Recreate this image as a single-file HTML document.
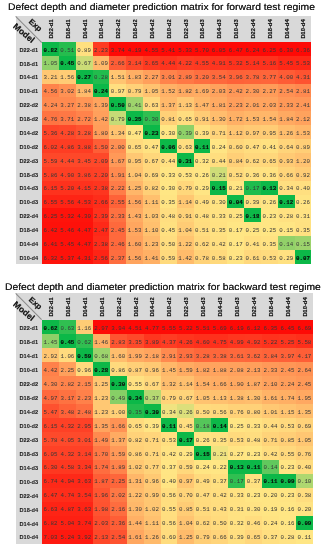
<!DOCTYPE html>
<html><head><meta charset="utf-8"><style>
*{margin:0;padding:0;box-sizing:border-box}
html,body{width:324px;height:550px;background:#fff;overflow:hidden;position:relative}
body>div{position:absolute}
.ttl{font-family:"Liberation Sans",sans-serif;font-size:10.0px;text-rendering:geometricPrecision;color:#222;text-shadow:0 0 0.3px #222;white-space:nowrap;transform-origin:0 0;line-height:1}
.grey{background:#d9d9d9}
.diag{height:0;border-top:0.6px solid #8a8a8a;transform-origin:0 0}
.exp,.model{font-family:"Liberation Sans",sans-serif;font-weight:bold;font-size:8.6px;color:#111;-webkit-text-stroke:0.2px #111;transform:rotate(40deg);transform-origin:0 0;line-height:1;white-space:nowrap}
.ch{display:flex;align-items:center;justify-content:center}
.ch span{display:block;transform:rotate(-90deg);font-family:"Liberation Sans",sans-serif;font-weight:bold;font-size:5.75px;color:#0e0e0e;-webkit-text-stroke:0.15px #0e0e0e;white-space:nowrap}
.rl{font-family:"Liberation Sans",sans-serif;font-weight:bold;font-size:5.6px;color:#181818;-webkit-text-stroke:0.05px #181818;text-align:center;white-space:nowrap;padding-top:1.8px}
.c{font-family:"Liberation Mono",monospace;font-size:5.8px;color:#383838;text-align:center;white-space:nowrap;padding-top:1.7px}
.c.b{font-weight:bold;color:#0a0a0a;-webkit-text-stroke:0.1px #0a0a0a}
</style></head>
<body>
<div class="ttl" style="left:8.4px;top:3.2px;transform:scale(1.034,0.96)">Defect depth and diameter prediction matrix for forward test regime</div>
<div class="grey" style="left:15.7px;top:15.5px;width:295.74px;height:26.40px"></div>
<div class="grey" style="left:15.7px;top:41.9px;width:26.30px;height:222.08px"></div>
<div class="diag" style="left:15.7px;top:15.5px;width:37.26px;transform:rotate(45.11deg)"></div>
<div class="exp" style="left:32.2px;top:18.1px;font-size:7.9px">Exp</div>
<div class="model" style="left:16.9px;top:22.3px">Model</div>
<div class="ch" style="left:42.00px;top:15.50px;width:16.84px;height:26.40px"><span>D22-d1</span></div>
<div class="ch" style="left:58.84px;top:15.50px;width:16.84px;height:26.40px"><span>D18-d1</span></div>
<div class="ch" style="left:75.68px;top:15.50px;width:16.84px;height:26.40px"><span>D14-d1</span></div>
<div class="ch" style="left:92.52px;top:15.50px;width:16.84px;height:26.40px"><span>D10-d1</span></div>
<div class="ch" style="left:109.36px;top:15.50px;width:16.84px;height:26.40px"><span>D22-d2</span></div>
<div class="ch" style="left:126.20px;top:15.50px;width:16.84px;height:26.40px"><span>D18-d2</span></div>
<div class="ch" style="left:143.04px;top:15.50px;width:16.84px;height:26.40px"><span>D14-d2</span></div>
<div class="ch" style="left:159.88px;top:15.50px;width:16.84px;height:26.40px"><span>D10-d2</span></div>
<div class="ch" style="left:176.72px;top:15.50px;width:16.84px;height:26.40px"><span>D22-d3</span></div>
<div class="ch" style="left:193.56px;top:15.50px;width:16.84px;height:26.40px"><span>D18-d3</span></div>
<div class="ch" style="left:210.40px;top:15.50px;width:16.84px;height:26.40px"><span>D14-d3</span></div>
<div class="ch" style="left:227.24px;top:15.50px;width:16.84px;height:26.40px"><span>D10-d3</span></div>
<div class="ch" style="left:244.08px;top:15.50px;width:16.84px;height:26.40px"><span>D22-d4</span></div>
<div class="ch" style="left:260.92px;top:15.50px;width:16.84px;height:26.40px"><span>D18-d4</span></div>
<div class="ch" style="left:277.76px;top:15.50px;width:16.84px;height:26.40px"><span>D14-d4</span></div>
<div class="ch" style="left:294.60px;top:15.50px;width:16.84px;height:26.40px"><span>D10-d4</span></div>
<div class="rl" style="left:15.7px;top:41.90px;width:26.30px;height:13.88px;line-height:13.88px">D22-d1</div>
<div class="c b" style="left:42.00px;top:41.90px;width:16.86px;height:13.90px;line-height:13.88px;background:#0cb848">0.82</div>
<div class="c" style="left:58.84px;top:41.90px;width:16.86px;height:13.90px;line-height:13.88px;background:#25bd4e">0.51</div>
<div class="c" style="left:75.68px;top:41.90px;width:16.86px;height:13.90px;line-height:13.88px;background:#ffe080">0.89</div>
<div class="c" style="left:92.52px;top:41.90px;width:16.86px;height:13.90px;line-height:13.88px;background:#fe3a21">2.23</div>
<div class="c" style="left:109.36px;top:41.90px;width:16.86px;height:13.90px;line-height:13.88px;background:#fe0a06">3.74</div>
<div class="c" style="left:126.20px;top:41.90px;width:16.86px;height:13.90px;line-height:13.88px;background:#fe0a06">4.19</div>
<div class="c" style="left:143.04px;top:41.90px;width:16.86px;height:13.90px;line-height:13.88px;background:#fe0a06">4.55</div>
<div class="c" style="left:159.88px;top:41.90px;width:16.86px;height:13.90px;line-height:13.88px;background:#fe0a06">5.41</div>
<div class="c" style="left:176.72px;top:41.90px;width:16.86px;height:13.90px;line-height:13.88px;background:#fe0a06">5.33</div>
<div class="c" style="left:193.56px;top:41.90px;width:16.86px;height:13.90px;line-height:13.88px;background:#fe0a06">5.70</div>
<div class="c" style="left:210.40px;top:41.90px;width:16.86px;height:13.90px;line-height:13.88px;background:#fe0a06">6.05</div>
<div class="c" style="left:227.24px;top:41.90px;width:16.86px;height:13.90px;line-height:13.88px;background:#fe0a06">6.47</div>
<div class="c" style="left:244.08px;top:41.90px;width:16.86px;height:13.90px;line-height:13.88px;background:#fe0a06">6.24</div>
<div class="c" style="left:260.92px;top:41.90px;width:16.86px;height:13.90px;line-height:13.88px;background:#fe0a06">6.25</div>
<div class="c" style="left:277.76px;top:41.90px;width:16.86px;height:13.90px;line-height:13.88px;background:#fe0a06">6.30</div>
<div class="c" style="left:294.60px;top:41.90px;width:16.86px;height:13.90px;line-height:13.88px;background:#fe0a06">6.36</div>
<div class="rl" style="left:15.7px;top:55.78px;width:26.30px;height:13.88px;line-height:13.88px">D18-d1</div>
<div class="c" style="left:42.00px;top:55.78px;width:16.86px;height:13.90px;line-height:13.88px;background:#92d169">1.05</div>
<div class="c b" style="left:58.84px;top:55.78px;width:16.86px;height:13.90px;line-height:13.88px;background:#0cb848">0.45</div>
<div class="c" style="left:75.68px;top:55.78px;width:16.86px;height:13.90px;line-height:13.88px;background:#cbdc77">0.67</div>
<div class="c" style="left:92.52px;top:55.78px;width:16.86px;height:13.90px;line-height:13.88px;background:#ffb96a">1.09</div>
<div class="c" style="left:109.36px;top:55.78px;width:16.86px;height:13.90px;line-height:13.88px;background:#fe5d36">2.66</div>
<div class="c" style="left:126.20px;top:55.78px;width:16.86px;height:13.90px;line-height:13.88px;background:#fe4829">3.14</div>
<div class="c" style="left:143.04px;top:55.78px;width:16.86px;height:13.90px;line-height:13.88px;background:#fe3a21">3.65</div>
<div class="c" style="left:159.88px;top:55.78px;width:16.86px;height:13.90px;line-height:13.88px;background:#fe341e">4.44</div>
<div class="c" style="left:176.72px;top:55.78px;width:16.86px;height:13.90px;line-height:13.88px;background:#fe3c23">4.22</div>
<div class="c" style="left:193.56px;top:55.78px;width:16.86px;height:13.90px;line-height:13.88px;background:#fe3921">4.55</div>
<div class="c" style="left:210.40px;top:55.78px;width:16.86px;height:13.90px;line-height:13.88px;background:#fe351f">4.91</div>
<div class="c" style="left:227.24px;top:55.78px;width:16.86px;height:13.90px;line-height:13.88px;background:#fe321d">5.32</div>
<div class="c" style="left:244.08px;top:55.78px;width:16.86px;height:13.90px;line-height:13.88px;background:#fe321d">5.14</div>
<div class="c" style="left:260.92px;top:55.78px;width:16.86px;height:13.90px;line-height:13.88px;background:#fe321d">5.16</div>
<div class="c" style="left:277.76px;top:55.78px;width:16.86px;height:13.90px;line-height:13.88px;background:#fe2817">5.45</div>
<div class="c" style="left:294.60px;top:55.78px;width:16.86px;height:13.90px;line-height:13.88px;background:#fe2817">5.53</div>
<div class="rl" style="left:15.7px;top:69.66px;width:26.30px;height:13.88px;line-height:13.88px">D14-d1</div>
<div class="c" style="left:42.00px;top:69.66px;width:16.86px;height:13.90px;line-height:13.88px;background:#ffc772">3.21</div>
<div class="c" style="left:58.84px;top:69.66px;width:16.86px;height:13.90px;line-height:13.88px;background:#ffcc75">1.56</div>
<div class="c b" style="left:75.68px;top:69.66px;width:16.86px;height:13.90px;line-height:13.88px;background:#0cb848">0.27</div>
<div class="c" style="left:92.52px;top:69.66px;width:16.86px;height:13.90px;line-height:13.88px;background:#22bc4d">0.28</div>
<div class="c" style="left:109.36px;top:69.66px;width:16.86px;height:13.90px;line-height:13.88px;background:#ffc571">1.51</div>
<div class="c" style="left:126.20px;top:69.66px;width:16.86px;height:13.90px;line-height:13.88px;background:#ffaf64">1.83</div>
<div class="c" style="left:143.04px;top:69.66px;width:16.86px;height:13.90px;line-height:13.88px;background:#ffa05c">2.27</div>
<div class="c" style="left:159.88px;top:69.66px;width:16.86px;height:13.90px;line-height:13.88px;background:#ff834b">3.01</div>
<div class="c" style="left:176.72px;top:69.66px;width:16.86px;height:13.90px;line-height:13.88px;background:#ff7845">2.89</div>
<div class="c" style="left:193.56px;top:69.66px;width:16.86px;height:13.90px;line-height:13.88px;background:#fe6f40">3.20</div>
<div class="c" style="left:210.40px;top:69.66px;width:16.86px;height:13.90px;line-height:13.88px;background:#fe693c">3.54</div>
<div class="c" style="left:227.24px;top:69.66px;width:16.86px;height:13.90px;line-height:13.88px;background:#fe6238">3.96</div>
<div class="c" style="left:244.08px;top:69.66px;width:16.86px;height:13.90px;line-height:13.88px;background:#fe6439">3.78</div>
<div class="c" style="left:260.92px;top:69.66px;width:16.86px;height:13.90px;line-height:13.88px;background:#fe653a">3.77</div>
<div class="c" style="left:277.76px;top:69.66px;width:16.86px;height:13.90px;line-height:13.88px;background:#fe5c35">4.00</div>
<div class="c" style="left:294.60px;top:69.66px;width:16.86px;height:13.90px;line-height:13.88px;background:#fe5330">4.31</div>
<div class="rl" style="left:15.7px;top:83.54px;width:26.30px;height:13.88px;line-height:13.88px">D10-d1</div>
<div class="c" style="left:42.00px;top:83.54px;width:16.86px;height:13.90px;line-height:13.88px;background:#ff834b">4.56</div>
<div class="c" style="left:58.84px;top:83.54px;width:16.86px;height:13.90px;line-height:13.88px;background:#ff9254">3.02</div>
<div class="c" style="left:75.68px;top:83.54px;width:16.86px;height:13.90px;line-height:13.88px;background:#ffba6b">1.84</div>
<div class="c b" style="left:92.52px;top:83.54px;width:16.86px;height:13.90px;line-height:13.88px;background:#0cb848">0.24</div>
<div class="c" style="left:109.36px;top:83.54px;width:16.86px;height:13.90px;line-height:13.88px;background:#ffdf80">0.97</div>
<div class="c" style="left:126.20px;top:83.54px;width:16.86px;height:13.90px;line-height:13.88px;background:#ffd178">0.79</div>
<div class="c" style="left:143.04px;top:83.54px;width:16.86px;height:13.90px;line-height:13.88px;background:#ffc370">1.05</div>
<div class="c" style="left:159.88px;top:83.54px;width:16.86px;height:13.90px;line-height:13.88px;background:#ffb166">1.52</div>
<div class="c" style="left:176.72px;top:83.54px;width:16.86px;height:13.90px;line-height:13.88px;background:#ffa961">1.82</div>
<div class="c" style="left:193.56px;top:83.54px;width:16.86px;height:13.90px;line-height:13.88px;background:#ffad63">1.69</div>
<div class="c" style="left:210.40px;top:83.54px;width:16.86px;height:13.90px;line-height:13.88px;background:#ffa25d">2.03</div>
<div class="c" style="left:227.24px;top:83.54px;width:16.86px;height:13.90px;line-height:13.88px;background:#ff9757">2.42</div>
<div class="c" style="left:244.08px;top:83.54px;width:16.86px;height:13.90px;line-height:13.88px;background:#ff9a58">2.30</div>
<div class="c" style="left:260.92px;top:83.54px;width:16.86px;height:13.90px;line-height:13.88px;background:#ff9c59">2.27</div>
<div class="c" style="left:277.76px;top:83.54px;width:16.86px;height:13.90px;line-height:13.88px;background:#ff9053">2.54</div>
<div class="c" style="left:294.60px;top:83.54px;width:16.86px;height:13.90px;line-height:13.88px;background:#ff894f">2.81</div>
<div class="rl" style="left:15.7px;top:97.42px;width:26.30px;height:13.88px;line-height:13.88px">D22-d2</div>
<div class="c" style="left:42.00px;top:97.42px;width:16.86px;height:13.90px;line-height:13.88px;background:#ff8a4f">4.24</div>
<div class="c" style="left:58.84px;top:97.42px;width:16.86px;height:13.90px;line-height:13.88px;background:#ff8a4f">3.27</div>
<div class="c" style="left:75.68px;top:97.42px;width:16.86px;height:13.90px;line-height:13.88px;background:#ff9555">2.38</div>
<div class="c" style="left:92.52px;top:97.42px;width:16.86px;height:13.90px;line-height:13.88px;background:#ffa45e">1.39</div>
<div class="c b" style="left:109.36px;top:97.42px;width:16.86px;height:13.90px;line-height:13.88px;background:#0cb848">0.50</div>
<div class="c" style="left:126.20px;top:97.42px;width:16.86px;height:13.90px;line-height:13.88px;background:#9ed46c">0.41</div>
<div class="c" style="left:143.04px;top:97.42px;width:16.86px;height:13.90px;line-height:13.88px;background:#ffd97d">0.63</div>
<div class="c" style="left:159.88px;top:97.42px;width:16.86px;height:13.90px;line-height:13.88px;background:#ffb86a">1.37</div>
<div class="c" style="left:176.72px;top:97.42px;width:16.86px;height:13.90px;line-height:13.88px;background:#ffc873">1.13</div>
<div class="c" style="left:193.56px;top:97.42px;width:16.86px;height:13.90px;line-height:13.88px;background:#ffb668">1.47</div>
<div class="c" style="left:210.40px;top:97.42px;width:16.86px;height:13.90px;line-height:13.88px;background:#ffaa62">1.81</div>
<div class="c" style="left:227.24px;top:97.42px;width:16.86px;height:13.90px;line-height:13.88px;background:#ff9e5b">2.23</div>
<div class="c" style="left:244.08px;top:97.42px;width:16.86px;height:13.90px;line-height:13.88px;background:#ffa45e">2.01</div>
<div class="c" style="left:260.92px;top:97.42px;width:16.86px;height:13.90px;line-height:13.88px;background:#ffa45e">2.03</div>
<div class="c" style="left:277.76px;top:97.42px;width:16.86px;height:13.90px;line-height:13.88px;background:#ff9857">2.33</div>
<div class="c" style="left:294.60px;top:97.42px;width:16.86px;height:13.90px;line-height:13.88px;background:#ff9757">2.41</div>
<div class="rl" style="left:15.7px;top:111.30px;width:26.30px;height:13.88px;line-height:13.88px">D18-d2</div>
<div class="c" style="left:42.00px;top:111.30px;width:16.86px;height:13.90px;line-height:13.88px;background:#fe7442">4.76</div>
<div class="c" style="left:58.84px;top:111.30px;width:16.86px;height:13.90px;line-height:13.88px;background:#fe7845">3.71</div>
<div class="c" style="left:75.68px;top:111.30px;width:16.86px;height:13.90px;line-height:13.88px;background:#ff834b">2.72</div>
<div class="c" style="left:92.52px;top:111.30px;width:16.86px;height:13.90px;line-height:13.88px;background:#ffa05c">1.42</div>
<div class="c" style="left:109.36px;top:111.30px;width:16.86px;height:13.90px;line-height:13.88px;background:#c5db76">0.79</div>
<div class="c b" style="left:126.20px;top:111.30px;width:16.86px;height:13.90px;line-height:13.88px;background:#0cb848">0.35</div>
<div class="c" style="left:143.04px;top:111.30px;width:16.86px;height:13.90px;line-height:13.88px;background:#30bf51">0.30</div>
<div class="c" style="left:159.88px;top:111.30px;width:16.86px;height:13.90px;line-height:13.88px;background:#ffd077">0.81</div>
<div class="c" style="left:176.72px;top:111.30px;width:16.86px;height:13.90px;line-height:13.88px;background:#ffdd7f">0.65</div>
<div class="c" style="left:193.56px;top:111.30px;width:16.86px;height:13.90px;line-height:13.88px;background:#ffcc75">0.91</div>
<div class="c" style="left:210.40px;top:111.30px;width:16.86px;height:13.90px;line-height:13.88px;background:#ffbd6d">1.30</div>
<div class="c" style="left:227.24px;top:111.30px;width:16.86px;height:13.90px;line-height:13.88px;background:#ffb065">1.72</div>
<div class="c" style="left:244.08px;top:111.30px;width:16.86px;height:13.90px;line-height:13.88px;background:#ffb668">1.53</div>
<div class="c" style="left:260.92px;top:111.30px;width:16.86px;height:13.90px;line-height:13.88px;background:#ffb669">1.54</div>
<div class="c" style="left:277.76px;top:111.30px;width:16.86px;height:13.90px;line-height:13.88px;background:#ffa961">1.84</div>
<div class="c" style="left:294.60px;top:111.30px;width:16.86px;height:13.90px;line-height:13.88px;background:#ffa25d">2.12</div>
<div class="rl" style="left:15.7px;top:125.18px;width:26.30px;height:13.88px;line-height:13.88px">D14-d2</div>
<div class="c" style="left:42.00px;top:125.18px;width:16.86px;height:13.90px;line-height:13.88px;background:#fe4528">5.36</div>
<div class="c" style="left:58.84px;top:125.18px;width:16.86px;height:13.90px;line-height:13.88px;background:#fe482a">4.28</div>
<div class="c" style="left:75.68px;top:125.18px;width:16.86px;height:13.90px;line-height:13.88px;background:#fe5330">3.28</div>
<div class="c" style="left:92.52px;top:125.18px;width:16.86px;height:13.90px;line-height:13.88px;background:#ff9d5a">1.80</div>
<div class="c" style="left:109.36px;top:125.18px;width:16.86px;height:13.90px;line-height:13.88px;background:#ffc370">1.34</div>
<div class="c" style="left:126.20px;top:125.18px;width:16.86px;height:13.90px;line-height:13.88px;background:#ffe483">0.47</div>
<div class="c b" style="left:143.04px;top:125.18px;width:16.86px;height:13.90px;line-height:13.88px;background:#0cb848">0.23</div>
<div class="c" style="left:159.88px;top:125.18px;width:16.86px;height:13.90px;line-height:13.88px;background:#ffe684">0.30</div>
<div class="c" style="left:176.72px;top:125.18px;width:16.86px;height:13.90px;line-height:13.88px;background:#8ed168">0.39</div>
<div class="c" style="left:193.56px;top:125.18px;width:16.86px;height:13.90px;line-height:13.88px;background:#ffe181">0.39</div>
<div class="c" style="left:210.40px;top:125.18px;width:16.86px;height:13.90px;line-height:13.88px;background:#ffd47a">0.71</div>
<div class="c" style="left:227.24px;top:125.18px;width:16.86px;height:13.90px;line-height:13.88px;background:#ffc571">1.12</div>
<div class="c" style="left:244.08px;top:125.18px;width:16.86px;height:13.90px;line-height:13.88px;background:#ffca74">0.97</div>
<div class="c" style="left:260.92px;top:125.18px;width:16.86px;height:13.90px;line-height:13.88px;background:#ffcc75">0.95</div>
<div class="c" style="left:277.76px;top:125.18px;width:16.86px;height:13.90px;line-height:13.88px;background:#ffbe6d">1.26</div>
<div class="c" style="left:294.60px;top:125.18px;width:16.86px;height:13.90px;line-height:13.88px;background:#ffb769">1.53</div>
<div class="rl" style="left:15.7px;top:139.06px;width:26.30px;height:13.88px;line-height:13.88px">D10-d2</div>
<div class="c" style="left:42.00px;top:139.06px;width:16.86px;height:13.90px;line-height:13.88px;background:#fe3d23">6.02</div>
<div class="c" style="left:58.84px;top:139.06px;width:16.86px;height:13.90px;line-height:13.88px;background:#fe3d23">4.86</div>
<div class="c" style="left:75.68px;top:139.06px;width:16.86px;height:13.90px;line-height:13.88px;background:#fe3d23">3.88</div>
<div class="c" style="left:92.52px;top:139.06px;width:16.86px;height:13.90px;line-height:13.88px;background:#fe5e36">1.50</div>
<div class="c" style="left:109.36px;top:139.06px;width:16.86px;height:13.90px;line-height:13.88px;background:#ff9053">2.00</div>
<div class="c" style="left:126.20px;top:139.06px;width:16.86px;height:13.90px;line-height:13.88px;background:#ffda7d">0.65</div>
<div class="c" style="left:143.04px;top:139.06px;width:16.86px;height:13.90px;line-height:13.88px;background:#ffe281">0.47</div>
<div class="c b" style="left:159.88px;top:139.06px;width:16.86px;height:13.90px;line-height:13.88px;background:#0cb848">0.06</div>
<div class="c" style="left:176.72px;top:139.06px;width:16.86px;height:13.90px;line-height:13.88px;background:#ffde80">0.63</div>
<div class="c b" style="left:193.56px;top:139.06px;width:16.86px;height:13.90px;line-height:13.88px;background:#0cb848">0.11</div>
<div class="c" style="left:210.40px;top:139.06px;width:16.86px;height:13.90px;line-height:13.88px;background:#ffe584">0.24</div>
<div class="c" style="left:227.24px;top:139.06px;width:16.86px;height:13.90px;line-height:13.88px;background:#ffd77b">0.60</div>
<div class="c" style="left:244.08px;top:139.06px;width:16.86px;height:13.90px;line-height:13.88px;background:#ffdd7f">0.47</div>
<div class="c" style="left:260.92px;top:139.06px;width:16.86px;height:13.90px;line-height:13.88px;background:#ffe080">0.41</div>
<div class="c" style="left:277.76px;top:139.06px;width:16.86px;height:13.90px;line-height:13.88px;background:#ffd47a">0.64</div>
<div class="c" style="left:294.60px;top:139.06px;width:16.86px;height:13.90px;line-height:13.88px;background:#ffce76">0.89</div>
<div class="rl" style="left:15.7px;top:152.94px;width:26.30px;height:13.88px;line-height:13.88px">D22-d3</div>
<div class="c" style="left:42.00px;top:152.94px;width:16.86px;height:13.90px;line-height:13.88px;background:#fe4829">5.59</div>
<div class="c" style="left:58.84px;top:152.94px;width:16.86px;height:13.90px;line-height:13.88px;background:#fe4829">4.44</div>
<div class="c" style="left:75.68px;top:152.94px;width:16.86px;height:13.90px;line-height:13.88px;background:#fe4829">3.45</div>
<div class="c" style="left:92.52px;top:152.94px;width:16.86px;height:13.90px;line-height:13.88px;background:#fe4829">2.09</div>
<div class="c" style="left:109.36px;top:152.94px;width:16.86px;height:13.90px;line-height:13.88px;background:#ff9958">1.67</div>
<div class="c" style="left:126.20px;top:152.94px;width:16.86px;height:13.90px;line-height:13.88px;background:#ffc873">0.95</div>
<div class="c" style="left:143.04px;top:152.94px;width:16.86px;height:13.90px;line-height:13.88px;background:#ffd77b">0.67</div>
<div class="c" style="left:159.88px;top:152.94px;width:16.86px;height:13.90px;line-height:13.88px;background:#ffe081">0.44</div>
<div class="c b" style="left:176.72px;top:152.94px;width:16.86px;height:13.90px;line-height:13.88px;background:#0cb848">0.31</div>
<div class="c" style="left:193.56px;top:152.94px;width:16.86px;height:13.90px;line-height:13.88px;background:#ffe483">0.32</div>
<div class="c" style="left:210.40px;top:152.94px;width:16.86px;height:13.90px;line-height:13.88px;background:#ffde7f">0.44</div>
<div class="c" style="left:227.24px;top:152.94px;width:16.86px;height:13.90px;line-height:13.88px;background:#ffcf77">0.84</div>
<div class="c" style="left:244.08px;top:152.94px;width:16.86px;height:13.90px;line-height:13.88px;background:#ffd77c">0.62</div>
<div class="c" style="left:260.92px;top:152.94px;width:16.86px;height:13.90px;line-height:13.88px;background:#ffd77b">0.65</div>
<div class="c" style="left:277.76px;top:152.94px;width:16.86px;height:13.90px;line-height:13.88px;background:#ffca74">0.93</div>
<div class="c" style="left:294.60px;top:152.94px;width:16.86px;height:13.90px;line-height:13.88px;background:#ffc270">1.20</div>
<div class="rl" style="left:15.7px;top:166.82px;width:26.30px;height:13.88px;line-height:13.88px">D18-d3</div>
<div class="c" style="left:42.00px;top:166.82px;width:16.86px;height:13.90px;line-height:13.88px;background:#fe3f24">5.86</div>
<div class="c" style="left:58.84px;top:166.82px;width:16.86px;height:13.90px;line-height:13.88px;background:#fe3f24">4.90</div>
<div class="c" style="left:75.68px;top:166.82px;width:16.86px;height:13.90px;line-height:13.88px;background:#fe3f24">3.86</div>
<div class="c" style="left:92.52px;top:166.82px;width:16.86px;height:13.90px;line-height:13.88px;background:#fe4126">2.20</div>
<div class="c" style="left:109.36px;top:166.82px;width:16.86px;height:13.90px;line-height:13.88px;background:#ff8a4f">1.91</div>
<div class="c" style="left:126.20px;top:166.82px;width:16.86px;height:13.90px;line-height:13.88px;background:#ffc370">1.04</div>
<div class="c" style="left:143.04px;top:166.82px;width:16.86px;height:13.90px;line-height:13.88px;background:#ffd67b">0.69</div>
<div class="c" style="left:159.88px;top:166.82px;width:16.86px;height:13.90px;line-height:13.88px;background:#ffe583">0.33</div>
<div class="c" style="left:176.72px;top:166.82px;width:16.86px;height:13.90px;line-height:13.88px;background:#ffe382">0.53</div>
<div class="c" style="left:193.56px;top:166.82px;width:16.86px;height:13.90px;line-height:13.88px;background:#ffe684">0.26</div>
<div class="c" style="left:210.40px;top:166.82px;width:16.86px;height:13.90px;line-height:13.88px;background:#cedd78">0.21</div>
<div class="c" style="left:227.24px;top:166.82px;width:16.86px;height:13.90px;line-height:13.88px;background:#ffda7d">0.52</div>
<div class="c" style="left:244.08px;top:166.82px;width:16.86px;height:13.90px;line-height:13.88px;background:#ffe181">0.36</div>
<div class="c" style="left:260.92px;top:166.82px;width:16.86px;height:13.90px;line-height:13.88px;background:#ffe281">0.36</div>
<div class="c" style="left:277.76px;top:166.82px;width:16.86px;height:13.90px;line-height:13.88px;background:#ffd479">0.66</div>
<div class="c" style="left:294.60px;top:166.82px;width:16.86px;height:13.90px;line-height:13.88px;background:#ffcc75">0.92</div>
<div class="rl" style="left:15.7px;top:180.70px;width:26.30px;height:13.88px;line-height:13.88px">D14-d3</div>
<div class="c" style="left:42.00px;top:180.70px;width:16.86px;height:13.90px;line-height:13.88px;background:#fe321d">6.15</div>
<div class="c" style="left:58.84px;top:180.70px;width:16.86px;height:13.90px;line-height:13.88px;background:#fe321d">5.20</div>
<div class="c" style="left:75.68px;top:180.70px;width:16.86px;height:13.90px;line-height:13.88px;background:#fe321d">4.15</div>
<div class="c" style="left:92.52px;top:180.70px;width:16.86px;height:13.90px;line-height:13.88px;background:#fe361f">2.38</div>
<div class="c" style="left:109.36px;top:180.70px;width:16.86px;height:13.90px;line-height:13.88px;background:#ff7c48">2.22</div>
<div class="c" style="left:126.20px;top:180.70px;width:16.86px;height:13.90px;line-height:13.88px;background:#ffb669">1.25</div>
<div class="c" style="left:143.04px;top:180.70px;width:16.86px;height:13.90px;line-height:13.88px;background:#ffcf77">0.82</div>
<div class="c" style="left:159.88px;top:180.70px;width:16.86px;height:13.90px;line-height:13.88px;background:#ffe684">0.30</div>
<div class="c" style="left:176.72px;top:180.70px;width:16.86px;height:13.90px;line-height:13.88px;background:#ffd77b">0.79</div>
<div class="c" style="left:193.56px;top:180.70px;width:16.86px;height:13.90px;line-height:13.88px;background:#ffe584">0.29</div>
<div class="c b" style="left:210.40px;top:180.70px;width:16.86px;height:13.90px;line-height:13.88px;background:#0cb848">0.15</div>
<div class="c" style="left:227.24px;top:180.70px;width:16.86px;height:13.90px;line-height:13.88px;background:#ffe583">0.21</div>
<div class="c" style="left:244.08px;top:180.70px;width:16.86px;height:13.90px;line-height:13.88px;background:#1fbc4d">0.17</div>
<div class="c b" style="left:260.92px;top:180.70px;width:16.86px;height:13.90px;line-height:13.88px;background:#0cb848">0.13</div>
<div class="c" style="left:277.76px;top:180.70px;width:16.86px;height:13.90px;line-height:13.88px;background:#ffdf80">0.34</div>
<div class="c" style="left:294.60px;top:180.70px;width:16.86px;height:13.90px;line-height:13.88px;background:#ffdf80">0.40</div>
<div class="rl" style="left:15.7px;top:194.58px;width:26.30px;height:13.88px;line-height:13.88px">D10-d3</div>
<div class="c" style="left:42.00px;top:194.58px;width:16.86px;height:13.90px;line-height:13.88px;background:#fe2415">6.55</div>
<div class="c" style="left:58.84px;top:194.58px;width:16.86px;height:13.90px;line-height:13.88px;background:#fe2415">5.56</div>
<div class="c" style="left:75.68px;top:194.58px;width:16.86px;height:13.90px;line-height:13.88px;background:#fe2415">4.53</div>
<div class="c" style="left:92.52px;top:194.58px;width:16.86px;height:13.90px;line-height:13.88px;background:#fe2d1a">2.66</div>
<div class="c" style="left:109.36px;top:194.58px;width:16.86px;height:13.90px;line-height:13.88px;background:#fe6238">2.55</div>
<div class="c" style="left:126.20px;top:194.58px;width:16.86px;height:13.90px;line-height:13.88px;background:#ffa45e">1.56</div>
<div class="c" style="left:143.04px;top:194.58px;width:16.86px;height:13.90px;line-height:13.88px;background:#ffc06e">1.11</div>
<div class="c" style="left:159.88px;top:194.58px;width:16.86px;height:13.90px;line-height:13.88px;background:#ffe483">0.35</div>
<div class="c" style="left:176.72px;top:194.58px;width:16.86px;height:13.90px;line-height:13.88px;background:#ffc772">1.14</div>
<div class="c" style="left:193.56px;top:194.58px;width:16.86px;height:13.90px;line-height:13.88px;background:#ffdd7f">0.49</div>
<div class="c" style="left:210.40px;top:194.58px;width:16.86px;height:13.90px;line-height:13.88px;background:#ffe382">0.30</div>
<div class="c b" style="left:227.24px;top:194.58px;width:16.86px;height:13.90px;line-height:13.88px;background:#0cb848">0.04</div>
<div class="c" style="left:244.08px;top:194.58px;width:16.86px;height:13.90px;line-height:13.88px;background:#ffe080">0.39</div>
<div class="c" style="left:260.92px;top:194.58px;width:16.86px;height:13.90px;line-height:13.88px;background:#ffe584">0.26</div>
<div class="c b" style="left:277.76px;top:194.58px;width:16.86px;height:13.90px;line-height:13.88px;background:#0cb848">0.12</div>
<div class="c" style="left:294.60px;top:194.58px;width:16.86px;height:13.90px;line-height:13.88px;background:#ffe483">0.26</div>
<div class="rl" style="left:15.7px;top:208.46px;width:26.30px;height:13.88px;line-height:13.88px">D22-d4</div>
<div class="c" style="left:42.00px;top:208.46px;width:16.86px;height:13.90px;line-height:13.88px;background:#fe130b">6.25</div>
<div class="c" style="left:58.84px;top:208.46px;width:16.86px;height:13.90px;line-height:13.88px;background:#fe130b">5.32</div>
<div class="c" style="left:75.68px;top:208.46px;width:16.86px;height:13.90px;line-height:13.88px;background:#fe130b">4.30</div>
<div class="c" style="left:92.52px;top:208.46px;width:16.86px;height:13.90px;line-height:13.88px;background:#fe321d">2.39</div>
<div class="c" style="left:109.36px;top:208.46px;width:16.86px;height:13.90px;line-height:13.88px;background:#fe7141">2.33</div>
<div class="c" style="left:126.20px;top:208.46px;width:16.86px;height:13.90px;line-height:13.88px;background:#ffac63">1.43</div>
<div class="c" style="left:143.04px;top:208.46px;width:16.86px;height:13.90px;line-height:13.88px;background:#ffc470">1.03</div>
<div class="c" style="left:159.88px;top:208.46px;width:16.86px;height:13.90px;line-height:13.88px;background:#ffde80">0.48</div>
<div class="c" style="left:176.72px;top:208.46px;width:16.86px;height:13.90px;line-height:13.88px;background:#ffd278">0.91</div>
<div class="c" style="left:193.56px;top:208.46px;width:16.86px;height:13.90px;line-height:13.88px;background:#ffde7f">0.48</div>
<div class="c" style="left:210.40px;top:208.46px;width:16.86px;height:13.90px;line-height:13.88px;background:#ffe282">0.33</div>
<div class="c" style="left:227.24px;top:208.46px;width:16.86px;height:13.90px;line-height:13.88px;background:#ffe382">0.25</div>
<div class="c b" style="left:244.08px;top:208.46px;width:16.86px;height:13.90px;line-height:13.88px;background:#0cb848">0.18</div>
<div class="c" style="left:260.92px;top:208.46px;width:16.86px;height:13.90px;line-height:13.88px;background:#ffe684">0.23</div>
<div class="c" style="left:277.76px;top:208.46px;width:16.86px;height:13.90px;line-height:13.88px;background:#ffe181">0.28</div>
<div class="c" style="left:294.60px;top:208.46px;width:16.86px;height:13.90px;line-height:13.88px;background:#ffe282">0.31</div>
<div class="rl" style="left:15.7px;top:222.34px;width:26.30px;height:13.88px;line-height:13.88px">D18-d4</div>
<div class="c" style="left:42.00px;top:222.34px;width:16.86px;height:13.90px;line-height:13.88px;background:#fe110a">6.42</div>
<div class="c" style="left:58.84px;top:222.34px;width:16.86px;height:13.90px;line-height:13.88px;background:#fe110a">5.46</div>
<div class="c" style="left:75.68px;top:222.34px;width:16.86px;height:13.90px;line-height:13.88px;background:#fe110a">4.47</div>
<div class="c" style="left:92.52px;top:222.34px;width:16.86px;height:13.90px;line-height:13.88px;background:#fe2918">2.47</div>
<div class="c" style="left:109.36px;top:222.34px;width:16.86px;height:13.90px;line-height:13.88px;background:#fe693c">2.45</div>
<div class="c" style="left:126.20px;top:222.34px;width:16.86px;height:13.90px;line-height:13.88px;background:#ffa65f">1.53</div>
<div class="c" style="left:143.04px;top:222.34px;width:16.86px;height:13.90px;line-height:13.88px;background:#ffc06e">1.10</div>
<div class="c" style="left:159.88px;top:222.34px;width:16.86px;height:13.90px;line-height:13.88px;background:#ffe080">0.45</div>
<div class="c" style="left:176.72px;top:222.34px;width:16.86px;height:13.90px;line-height:13.88px;background:#ffcc75">1.04</div>
<div class="c" style="left:193.56px;top:222.34px;width:16.86px;height:13.90px;line-height:13.88px;background:#ffdc7f">0.51</div>
<div class="c" style="left:210.40px;top:222.34px;width:16.86px;height:13.90px;line-height:13.88px;background:#ffe181">0.35</div>
<div class="c" style="left:227.24px;top:222.34px;width:16.86px;height:13.90px;line-height:13.88px;background:#ffe684">0.17</div>
<div class="c" style="left:244.08px;top:222.34px;width:16.86px;height:13.90px;line-height:13.88px;background:#ffe583">0.25</div>
<div class="c" style="left:260.92px;top:222.34px;width:16.86px;height:13.90px;line-height:13.88px;background:#ffe684">0.25</div>
<div class="c" style="left:277.76px;top:222.34px;width:16.86px;height:13.90px;line-height:13.88px;background:#ffe684">0.15</div>
<div class="c" style="left:294.60px;top:222.34px;width:16.86px;height:13.90px;line-height:13.88px;background:#ffe181">0.35</div>
<div class="rl" style="left:15.7px;top:236.22px;width:26.30px;height:13.88px;line-height:13.88px">D14-d4</div>
<div class="c" style="left:42.00px;top:236.22px;width:16.86px;height:13.90px;line-height:13.88px;background:#fe110a">6.41</div>
<div class="c" style="left:58.84px;top:236.22px;width:16.86px;height:13.90px;line-height:13.88px;background:#fe110a">5.45</div>
<div class="c" style="left:75.68px;top:236.22px;width:16.86px;height:13.90px;line-height:13.88px;background:#fe110a">4.47</div>
<div class="c" style="left:92.52px;top:236.22px;width:16.86px;height:13.90px;line-height:13.88px;background:#fe2d1a">2.38</div>
<div class="c" style="left:109.36px;top:236.22px;width:16.86px;height:13.90px;line-height:13.88px;background:#fe693c">2.46</div>
<div class="c" style="left:126.20px;top:236.22px;width:16.86px;height:13.90px;line-height:13.88px;background:#ffa25d">1.60</div>
<div class="c" style="left:143.04px;top:236.22px;width:16.86px;height:13.90px;line-height:13.88px;background:#ffb96a">1.23</div>
<div class="c" style="left:159.88px;top:236.22px;width:16.86px;height:13.90px;line-height:13.88px;background:#ffdd7f">0.50</div>
<div class="c" style="left:176.72px;top:236.22px;width:16.86px;height:13.90px;line-height:13.88px;background:#ffc470">1.22</div>
<div class="c" style="left:193.56px;top:236.22px;width:16.86px;height:13.90px;line-height:13.88px;background:#ffd87c">0.62</div>
<div class="c" style="left:210.40px;top:236.22px;width:16.86px;height:13.90px;line-height:13.88px;background:#ffdf80">0.42</div>
<div class="c" style="left:227.24px;top:236.22px;width:16.86px;height:13.90px;line-height:13.88px;background:#ffe684">0.17</div>
<div class="c" style="left:244.08px;top:236.22px;width:16.86px;height:13.90px;line-height:13.88px;background:#ffdf80">0.41</div>
<div class="c" style="left:260.92px;top:236.22px;width:16.86px;height:13.90px;line-height:13.88px;background:#ffe282">0.35</div>
<div class="c" style="left:277.76px;top:236.22px;width:16.86px;height:13.90px;line-height:13.88px;background:#92d169">0.14</div>
<div class="c" style="left:294.60px;top:236.22px;width:16.86px;height:13.90px;line-height:13.88px;background:#9cd36c">0.15</div>
<div class="rl" style="left:15.7px;top:250.10px;width:26.30px;height:13.88px;line-height:13.88px">D10-d4</div>
<div class="c" style="left:42.00px;top:250.10px;width:16.86px;height:13.90px;line-height:13.88px;background:#fe130b">6.32</div>
<div class="c" style="left:58.84px;top:250.10px;width:16.86px;height:13.90px;line-height:13.88px;background:#fe130b">5.37</div>
<div class="c" style="left:75.68px;top:250.10px;width:16.86px;height:13.90px;line-height:13.88px;background:#fe130b">4.31</div>
<div class="c" style="left:92.52px;top:250.10px;width:16.86px;height:13.90px;line-height:13.88px;background:#fe2415">2.56</div>
<div class="c" style="left:109.36px;top:250.10px;width:16.86px;height:13.90px;line-height:13.88px;background:#fe6d3f">2.37</div>
<div class="c" style="left:126.20px;top:250.10px;width:16.86px;height:13.90px;line-height:13.88px;background:#ffa45e">1.56</div>
<div class="c" style="left:143.04px;top:250.10px;width:16.86px;height:13.90px;line-height:13.88px;background:#ffb065">1.41</div>
<div class="c" style="left:159.88px;top:250.10px;width:16.86px;height:13.90px;line-height:13.88px;background:#ffda7d">0.59</div>
<div class="c" style="left:176.72px;top:250.10px;width:16.86px;height:13.90px;line-height:13.88px;background:#ffbb6b">1.42</div>
<div class="c" style="left:193.56px;top:250.10px;width:16.86px;height:13.90px;line-height:13.88px;background:#ffd278">0.78</div>
<div class="c" style="left:210.40px;top:250.10px;width:16.86px;height:13.90px;line-height:13.88px;background:#ffd97c">0.58</div>
<div class="c" style="left:227.24px;top:250.10px;width:16.86px;height:13.90px;line-height:13.88px;background:#ffe483">0.23</div>
<div class="c" style="left:244.08px;top:250.10px;width:16.86px;height:13.90px;line-height:13.88px;background:#ffd87c">0.61</div>
<div class="c" style="left:260.92px;top:250.10px;width:16.86px;height:13.90px;line-height:13.88px;background:#ffdb7e">0.53</div>
<div class="c" style="left:277.76px;top:250.10px;width:16.86px;height:13.90px;line-height:13.88px;background:#ffe181">0.29</div>
<div class="c b" style="left:294.60px;top:250.10px;width:16.86px;height:13.90px;line-height:13.88px;background:#0cb848">0.07</div>
<div class="ttl" style="left:5.2px;top:282.7px;transform:scale(1.031,0.96)">Defect depth and diameter prediction matrix for backward test regime</div>
<div class="grey" style="left:15.7px;top:293.3px;width:297.18px;height:26.70px"></div>
<div class="grey" style="left:15.7px;top:320.0px;width:26.30px;height:223.68px"></div>
<div class="diag" style="left:15.7px;top:293.3px;width:37.48px;transform:rotate(45.43deg)"></div>
<div class="exp" style="left:32.2px;top:295.90000000000003px;font-size:7.9px">Exp</div>
<div class="model" style="left:16.9px;top:300.1px">Model</div>
<div class="ch" style="left:42.00px;top:293.30px;width:16.93px;height:26.70px"><span>D22-d1</span></div>
<div class="ch" style="left:58.93px;top:293.30px;width:16.93px;height:26.70px"><span>D18-d1</span></div>
<div class="ch" style="left:75.86px;top:293.30px;width:16.93px;height:26.70px"><span>D14-d1</span></div>
<div class="ch" style="left:92.79px;top:293.30px;width:16.93px;height:26.70px"><span>D10-d1</span></div>
<div class="ch" style="left:109.72px;top:293.30px;width:16.93px;height:26.70px"><span>D22-d2</span></div>
<div class="ch" style="left:126.65px;top:293.30px;width:16.93px;height:26.70px"><span>D18-d2</span></div>
<div class="ch" style="left:143.58px;top:293.30px;width:16.93px;height:26.70px"><span>D14-d2</span></div>
<div class="ch" style="left:160.51px;top:293.30px;width:16.93px;height:26.70px"><span>D10-d2</span></div>
<div class="ch" style="left:177.44px;top:293.30px;width:16.93px;height:26.70px"><span>D22-d3</span></div>
<div class="ch" style="left:194.37px;top:293.30px;width:16.93px;height:26.70px"><span>D18-d3</span></div>
<div class="ch" style="left:211.30px;top:293.30px;width:16.93px;height:26.70px"><span>D14-d3</span></div>
<div class="ch" style="left:228.23px;top:293.30px;width:16.93px;height:26.70px"><span>D10-d3</span></div>
<div class="ch" style="left:245.16px;top:293.30px;width:16.93px;height:26.70px"><span>D22-d4</span></div>
<div class="ch" style="left:262.09px;top:293.30px;width:16.93px;height:26.70px"><span>D18-d4</span></div>
<div class="ch" style="left:279.02px;top:293.30px;width:16.93px;height:26.70px"><span>D14-d4</span></div>
<div class="ch" style="left:295.95px;top:293.30px;width:16.93px;height:26.70px"><span>D10-d4</span></div>
<div class="rl" style="left:15.7px;top:320.00px;width:26.30px;height:13.98px;line-height:13.98px">D22-d1</div>
<div class="c b" style="left:42.00px;top:320.00px;width:16.95px;height:14.00px;line-height:13.98px;background:#0cb848">0.62</div>
<div class="c" style="left:58.93px;top:320.00px;width:16.95px;height:14.00px;line-height:13.98px;background:#30bf51">0.63</div>
<div class="c" style="left:75.86px;top:320.00px;width:16.95px;height:14.00px;line-height:13.98px;background:#ffcc75">1.16</div>
<div class="c" style="left:92.79px;top:320.00px;width:16.95px;height:14.00px;line-height:13.98px;background:#fe0a06">2.97</div>
<div class="c" style="left:109.72px;top:320.00px;width:16.95px;height:14.00px;line-height:13.98px;background:#fe0a06">3.94</div>
<div class="c" style="left:126.65px;top:320.00px;width:16.95px;height:14.00px;line-height:13.98px;background:#fe0a06">4.51</div>
<div class="c" style="left:143.58px;top:320.00px;width:16.95px;height:14.00px;line-height:13.98px;background:#fe0a06">4.77</div>
<div class="c" style="left:160.51px;top:320.00px;width:16.95px;height:14.00px;line-height:13.98px;background:#fe0a06">5.55</div>
<div class="c" style="left:177.44px;top:320.00px;width:16.95px;height:14.00px;line-height:13.98px;background:#fe0a06">5.22</div>
<div class="c" style="left:194.37px;top:320.00px;width:16.95px;height:14.00px;line-height:13.98px;background:#fe0a06">5.51</div>
<div class="c" style="left:211.30px;top:320.00px;width:16.95px;height:14.00px;line-height:13.98px;background:#fe0a06">5.69</div>
<div class="c" style="left:228.23px;top:320.00px;width:16.95px;height:14.00px;line-height:13.98px;background:#fe0a06">6.19</div>
<div class="c" style="left:245.16px;top:320.00px;width:16.95px;height:14.00px;line-height:13.98px;background:#fe0a06">6.12</div>
<div class="c" style="left:262.09px;top:320.00px;width:16.95px;height:14.00px;line-height:13.98px;background:#fe0a06">6.35</div>
<div class="c" style="left:279.02px;top:320.00px;width:16.95px;height:14.00px;line-height:13.98px;background:#fe0a06">6.45</div>
<div class="c" style="left:295.95px;top:320.00px;width:16.95px;height:14.00px;line-height:13.98px;background:#fe0a06">6.69</div>
<div class="rl" style="left:15.7px;top:333.98px;width:26.30px;height:13.98px;line-height:13.98px">D18-d1</div>
<div class="c" style="left:42.00px;top:333.98px;width:16.95px;height:14.00px;line-height:13.98px;background:#8dd068">1.45</div>
<div class="c b" style="left:58.93px;top:333.98px;width:16.95px;height:14.00px;line-height:13.98px;background:#0cb848">0.45</div>
<div class="c" style="left:75.86px;top:333.98px;width:16.95px;height:14.00px;line-height:13.98px;background:#30bf51">0.62</div>
<div class="c" style="left:92.79px;top:333.98px;width:16.95px;height:14.00px;line-height:13.98px;background:#ffaf64">1.46</div>
<div class="c" style="left:109.72px;top:333.98px;width:16.95px;height:14.00px;line-height:13.98px;background:#fe5531">2.83</div>
<div class="c" style="left:126.65px;top:333.98px;width:16.95px;height:14.00px;line-height:13.98px;background:#fe492a">3.35</div>
<div class="c" style="left:143.58px;top:333.98px;width:16.95px;height:14.00px;line-height:13.98px;background:#fe361f">3.89</div>
<div class="c" style="left:160.51px;top:333.98px;width:16.95px;height:14.00px;line-height:13.98px;background:#fe3c23">4.37</div>
<div class="c" style="left:177.44px;top:333.98px;width:16.95px;height:14.00px;line-height:13.98px;background:#fe351e">4.26</div>
<div class="c" style="left:194.37px;top:333.98px;width:16.95px;height:14.00px;line-height:13.98px;background:#fe301c">4.60</div>
<div class="c" style="left:211.30px;top:333.98px;width:16.95px;height:14.00px;line-height:13.98px;background:#fe301c">4.75</div>
<div class="c" style="left:228.23px;top:333.98px;width:16.95px;height:14.00px;line-height:13.98px;background:#fe361f">4.99</div>
<div class="c" style="left:245.16px;top:333.98px;width:16.95px;height:14.00px;line-height:13.98px;background:#fe3720">4.92</div>
<div class="c" style="left:262.09px;top:333.98px;width:16.95px;height:14.00px;line-height:13.98px;background:#fe321d">5.22</div>
<div class="c" style="left:279.02px;top:333.98px;width:16.95px;height:14.00px;line-height:13.98px;background:#fe341e">5.25</div>
<div class="c" style="left:295.95px;top:333.98px;width:16.95px;height:14.00px;line-height:13.98px;background:#fe2f1b">5.58</div>
<div class="rl" style="left:15.7px;top:347.96px;width:26.30px;height:13.98px;line-height:13.98px">D14-d1</div>
<div class="c" style="left:42.00px;top:347.96px;width:16.95px;height:14.00px;line-height:13.98px;background:#ffc571">2.92</div>
<div class="c" style="left:58.93px;top:347.96px;width:16.95px;height:14.00px;line-height:13.98px;background:#ffdb7e">1.06</div>
<div class="c b" style="left:75.86px;top:347.96px;width:16.95px;height:14.00px;line-height:13.98px;background:#0cb848">0.59</div>
<div class="c" style="left:92.79px;top:347.96px;width:16.95px;height:14.00px;line-height:13.98px;background:#9cd36c">0.68</div>
<div class="c" style="left:109.72px;top:347.96px;width:16.95px;height:14.00px;line-height:13.98px;background:#ffbe6d">1.60</div>
<div class="c" style="left:126.65px;top:347.96px;width:16.95px;height:14.00px;line-height:13.98px;background:#ffab62">1.99</div>
<div class="c" style="left:143.58px;top:347.96px;width:16.95px;height:14.00px;line-height:13.98px;background:#ffa45e">2.18</div>
<div class="c" style="left:160.51px;top:347.96px;width:16.95px;height:14.00px;line-height:13.98px;background:#ff8a4f">2.91</div>
<div class="c" style="left:177.44px;top:347.96px;width:16.95px;height:14.00px;line-height:13.98px;background:#fe7040">2.93</div>
<div class="c" style="left:194.37px;top:347.96px;width:16.95px;height:14.00px;line-height:13.98px;background:#fe673b">3.28</div>
<div class="c" style="left:211.30px;top:347.96px;width:16.95px;height:14.00px;line-height:13.98px;background:#fe673b">3.38</div>
<div class="c" style="left:228.23px;top:347.96px;width:16.95px;height:14.00px;line-height:13.98px;background:#fe693c">3.61</div>
<div class="c" style="left:245.16px;top:347.96px;width:16.95px;height:14.00px;line-height:13.98px;background:#fe673b">3.62</div>
<div class="c" style="left:262.09px;top:347.96px;width:16.95px;height:14.00px;line-height:13.98px;background:#fe6339">3.84</div>
<div class="c" style="left:279.02px;top:347.96px;width:16.95px;height:14.00px;line-height:13.98px;background:#fe6138">3.97</div>
<div class="c" style="left:295.95px;top:347.96px;width:16.95px;height:14.00px;line-height:13.98px;background:#fe5e36">4.17</div>
<div class="rl" style="left:15.7px;top:361.94px;width:26.30px;height:13.98px;line-height:13.98px">D10-d1</div>
<div class="c" style="left:42.00px;top:361.94px;width:16.95px;height:14.00px;line-height:13.98px;background:#ff814a">4.42</div>
<div class="c" style="left:58.93px;top:361.94px;width:16.95px;height:14.00px;line-height:13.98px;background:#ffa05c">2.25</div>
<div class="c" style="left:75.86px;top:361.94px;width:16.95px;height:14.00px;line-height:13.98px;background:#ffda7d">0.96</div>
<div class="c b" style="left:92.79px;top:361.94px;width:16.95px;height:14.00px;line-height:13.98px;background:#0cb848">0.28</div>
<div class="c" style="left:109.72px;top:361.94px;width:16.95px;height:14.00px;line-height:13.98px;background:#ffda7d">0.86</div>
<div class="c" style="left:126.65px;top:361.94px;width:16.95px;height:14.00px;line-height:13.98px;background:#ffcf77">0.87</div>
<div class="c" style="left:143.58px;top:361.94px;width:16.95px;height:14.00px;line-height:13.98px;background:#ffc973">0.96</div>
<div class="c" style="left:160.51px;top:361.94px;width:16.95px;height:14.00px;line-height:13.98px;background:#ffb869">1.45</div>
<div class="c" style="left:177.44px;top:361.94px;width:16.95px;height:14.00px;line-height:13.98px;background:#ffab62">1.59</div>
<div class="c" style="left:194.37px;top:361.94px;width:16.95px;height:14.00px;line-height:13.98px;background:#ffa35e">1.82</div>
<div class="c" style="left:211.30px;top:361.94px;width:16.95px;height:14.00px;line-height:13.98px;background:#ffa35e">1.88</div>
<div class="c" style="left:228.23px;top:361.94px;width:16.95px;height:14.00px;line-height:13.98px;background:#ffa15d">2.08</div>
<div class="c" style="left:245.16px;top:361.94px;width:16.95px;height:14.00px;line-height:13.98px;background:#ff9f5b">2.13</div>
<div class="c" style="left:262.09px;top:361.94px;width:16.95px;height:14.00px;line-height:13.98px;background:#ff9958">2.33</div>
<div class="c" style="left:279.02px;top:361.94px;width:16.95px;height:14.00px;line-height:13.98px;background:#ff9656">2.45</div>
<div class="c" style="left:295.95px;top:361.94px;width:16.95px;height:14.00px;line-height:13.98px;background:#ff9153">2.64</div>
<div class="rl" style="left:15.7px;top:375.92px;width:26.30px;height:13.98px;line-height:13.98px">D22-d2</div>
<div class="c" style="left:42.00px;top:375.92px;width:16.95px;height:14.00px;line-height:13.98px;background:#ff864d">4.30</div>
<div class="c" style="left:58.93px;top:375.92px;width:16.95px;height:14.00px;line-height:13.98px;background:#ff834b">2.82</div>
<div class="c" style="left:75.86px;top:375.92px;width:16.95px;height:14.00px;line-height:13.98px;background:#ff864d">2.15</div>
<div class="c" style="left:92.79px;top:375.92px;width:16.95px;height:14.00px;line-height:13.98px;background:#ffc672">1.25</div>
<div class="c b" style="left:109.72px;top:375.92px;width:16.95px;height:14.00px;line-height:13.98px;background:#0cb848">0.30</div>
<div class="c" style="left:126.65px;top:375.92px;width:16.95px;height:14.00px;line-height:13.98px;background:#ffe181">0.55</div>
<div class="c" style="left:143.58px;top:375.92px;width:16.95px;height:14.00px;line-height:13.98px;background:#ffd77c">0.67</div>
<div class="c" style="left:160.51px;top:375.92px;width:16.95px;height:14.00px;line-height:13.98px;background:#ffbd6d">1.32</div>
<div class="c" style="left:177.44px;top:375.92px;width:16.95px;height:14.00px;line-height:13.98px;background:#ffc06e">1.14</div>
<div class="c" style="left:194.37px;top:375.92px;width:16.95px;height:14.00px;line-height:13.98px;background:#ffaf64">1.54</div>
<div class="c" style="left:211.30px;top:375.92px;width:16.95px;height:14.00px;line-height:13.98px;background:#ffac63">1.66</div>
<div class="c" style="left:228.23px;top:375.92px;width:16.95px;height:14.00px;line-height:13.98px;background:#ffa860">1.90</div>
<div class="c" style="left:245.16px;top:375.92px;width:16.95px;height:14.00px;line-height:13.98px;background:#ffa961">1.87</div>
<div class="c" style="left:262.09px;top:375.92px;width:16.95px;height:14.00px;line-height:13.98px;background:#ffa15d">2.10</div>
<div class="c" style="left:279.02px;top:375.92px;width:16.95px;height:14.00px;line-height:13.98px;background:#ff9d5a">2.24</div>
<div class="c" style="left:295.95px;top:375.92px;width:16.95px;height:14.00px;line-height:13.98px;background:#ff9857">2.45</div>
<div class="rl" style="left:15.7px;top:389.90px;width:26.30px;height:13.98px;line-height:13.98px">D18-d2</div>
<div class="c" style="left:42.00px;top:389.90px;width:16.95px;height:14.00px;line-height:13.98px;background:#fe683c">4.97</div>
<div class="c" style="left:58.93px;top:389.90px;width:16.95px;height:14.00px;line-height:13.98px;background:#fe7241">3.17</div>
<div class="c" style="left:75.86px;top:389.90px;width:16.95px;height:14.00px;line-height:13.98px;background:#ff814a">2.23</div>
<div class="c" style="left:92.79px;top:389.90px;width:16.95px;height:14.00px;line-height:13.98px;background:#ffc873">1.23</div>
<div class="c" style="left:109.72px;top:389.90px;width:16.95px;height:14.00px;line-height:13.98px;background:#87cf66">0.49</div>
<div class="c b" style="left:126.65px;top:389.90px;width:16.95px;height:14.00px;line-height:13.98px;background:#0cb848">0.34</div>
<div class="c" style="left:143.58px;top:389.90px;width:16.95px;height:14.00px;line-height:13.98px;background:#b6d872">0.37</div>
<div class="c" style="left:160.51px;top:389.90px;width:16.95px;height:14.00px;line-height:13.98px;background:#ffd479">0.79</div>
<div class="c" style="left:177.44px;top:389.90px;width:16.95px;height:14.00px;line-height:13.98px;background:#ffd47a">0.67</div>
<div class="c" style="left:194.37px;top:389.90px;width:16.95px;height:14.00px;line-height:13.98px;background:#ffc370">1.05</div>
<div class="c" style="left:211.30px;top:389.90px;width:16.95px;height:14.00px;line-height:13.98px;background:#ffc16f">1.13</div>
<div class="c" style="left:228.23px;top:389.90px;width:16.95px;height:14.00px;line-height:13.98px;background:#ffbb6b">1.38</div>
<div class="c" style="left:245.16px;top:389.90px;width:16.95px;height:14.00px;line-height:13.98px;background:#ffbe6d">1.30</div>
<div class="c" style="left:262.09px;top:389.90px;width:16.95px;height:14.00px;line-height:13.98px;background:#ffb367">1.61</div>
<div class="c" style="left:279.02px;top:389.90px;width:16.95px;height:14.00px;line-height:13.98px;background:#ffaf64">1.74</div>
<div class="c" style="left:295.95px;top:389.90px;width:16.95px;height:14.00px;line-height:13.98px;background:#ffa861">1.95</div>
<div class="rl" style="left:15.7px;top:403.88px;width:26.30px;height:13.98px;line-height:13.98px">D14-d2</div>
<div class="c" style="left:42.00px;top:403.88px;width:16.95px;height:14.00px;line-height:13.98px;background:#fe512f">5.47</div>
<div class="c" style="left:58.93px;top:403.88px;width:16.95px;height:14.00px;line-height:13.98px;background:#fe6238">3.48</div>
<div class="c" style="left:75.86px;top:403.88px;width:16.95px;height:14.00px;line-height:13.98px;background:#fe6f40">2.48</div>
<div class="c" style="left:92.79px;top:403.88px;width:16.95px;height:14.00px;line-height:13.98px;background:#ffc873">1.23</div>
<div class="c" style="left:109.72px;top:403.88px;width:16.95px;height:14.00px;line-height:13.98px;background:#ffd077">1.00</div>
<div class="c" style="left:126.65px;top:403.88px;width:16.95px;height:14.00px;line-height:13.98px;background:#22bc4d">0.35</div>
<div class="c b" style="left:143.58px;top:403.88px;width:16.95px;height:14.00px;line-height:13.98px;background:#0cb848">0.30</div>
<div class="c" style="left:160.51px;top:403.88px;width:16.95px;height:14.00px;line-height:13.98px;background:#f0e380">0.34</div>
<div class="c" style="left:177.44px;top:403.88px;width:16.95px;height:14.00px;line-height:13.98px;background:#dcdf7b">0.26</div>
<div class="c" style="left:194.37px;top:403.88px;width:16.95px;height:14.00px;line-height:13.98px;background:#ffda7d">0.50</div>
<div class="c" style="left:211.30px;top:403.88px;width:16.95px;height:14.00px;line-height:13.98px;background:#ffd87c">0.56</div>
<div class="c" style="left:228.23px;top:403.88px;width:16.95px;height:14.00px;line-height:13.98px;background:#ffd278">0.76</div>
<div class="c" style="left:245.16px;top:403.88px;width:16.95px;height:14.00px;line-height:13.98px;background:#ffd178">0.80</div>
<div class="c" style="left:262.09px;top:403.88px;width:16.95px;height:14.00px;line-height:13.98px;background:#ffc873">1.01</div>
<div class="c" style="left:279.02px;top:403.88px;width:16.95px;height:14.00px;line-height:13.98px;background:#ffc370">1.15</div>
<div class="c" style="left:295.95px;top:403.88px;width:16.95px;height:14.00px;line-height:13.98px;background:#ffbc6c">1.35</div>
<div class="rl" style="left:15.7px;top:417.86px;width:26.30px;height:13.98px;line-height:13.98px">D10-d2</div>
<div class="c" style="left:42.00px;top:417.86px;width:16.95px;height:14.00px;line-height:13.98px;background:#fe4126">6.15</div>
<div class="c" style="left:58.93px;top:417.86px;width:16.95px;height:14.00px;line-height:13.98px;background:#fe4126">4.32</div>
<div class="c" style="left:75.86px;top:417.86px;width:16.95px;height:14.00px;line-height:13.98px;background:#fe4126">2.95</div>
<div class="c" style="left:92.79px;top:417.86px;width:16.95px;height:14.00px;line-height:13.98px;background:#ffa45e">1.35</div>
<div class="c" style="left:109.72px;top:417.86px;width:16.95px;height:14.00px;line-height:13.98px;background:#ff9254">1.66</div>
<div class="c" style="left:126.65px;top:417.86px;width:16.95px;height:14.00px;line-height:13.98px;background:#ffdb7e">0.65</div>
<div class="c" style="left:143.58px;top:417.86px;width:16.95px;height:14.00px;line-height:13.98px;background:#ffe584">0.39</div>
<div class="c b" style="left:160.51px;top:417.86px;width:16.95px;height:14.00px;line-height:13.98px;background:#0cb848">0.11</div>
<div class="c" style="left:177.44px;top:417.86px;width:16.95px;height:14.00px;line-height:13.98px;background:#ffde80">0.45</div>
<div class="c" style="left:194.37px;top:417.86px;width:16.95px;height:14.00px;line-height:13.98px;background:#55c65a">0.18</div>
<div class="c b" style="left:211.30px;top:417.86px;width:16.95px;height:14.00px;line-height:13.98px;background:#0cb848">0.14</div>
<div class="c" style="left:228.23px;top:417.86px;width:16.95px;height:14.00px;line-height:13.98px;background:#ffe583">0.25</div>
<div class="c" style="left:245.16px;top:417.86px;width:16.95px;height:14.00px;line-height:13.98px;background:#ffe282">0.33</div>
<div class="c" style="left:262.09px;top:417.86px;width:16.95px;height:14.00px;line-height:13.98px;background:#ffdc7e">0.44</div>
<div class="c" style="left:279.02px;top:417.86px;width:16.95px;height:14.00px;line-height:13.98px;background:#ffd97d">0.53</div>
<div class="c" style="left:295.95px;top:417.86px;width:16.95px;height:14.00px;line-height:13.98px;background:#ffd279">0.69</div>
<div class="rl" style="left:15.7px;top:431.84px;width:26.30px;height:13.98px;line-height:13.98px">D22-d3</div>
<div class="c" style="left:42.00px;top:431.84px;width:16.95px;height:14.00px;line-height:13.98px;background:#fe4a2b">5.78</div>
<div class="c" style="left:58.93px;top:431.84px;width:16.95px;height:14.00px;line-height:13.98px;background:#fe4a2b">4.05</div>
<div class="c" style="left:75.86px;top:431.84px;width:16.95px;height:14.00px;line-height:13.98px;background:#fe4a2b">3.01</div>
<div class="c" style="left:92.79px;top:431.84px;width:16.95px;height:14.00px;line-height:13.98px;background:#ff8a4f">1.49</div>
<div class="c" style="left:109.72px;top:431.84px;width:16.95px;height:14.00px;line-height:13.98px;background:#ffab62">1.37</div>
<div class="c" style="left:126.65px;top:431.84px;width:16.95px;height:14.00px;line-height:13.98px;background:#ffd279">0.82</div>
<div class="c" style="left:143.58px;top:431.84px;width:16.95px;height:14.00px;line-height:13.98px;background:#ffd57b">0.71</div>
<div class="c" style="left:160.51px;top:431.84px;width:16.95px;height:14.00px;line-height:13.98px;background:#ffdf80">0.53</div>
<div class="c b" style="left:177.44px;top:431.84px;width:16.95px;height:14.00px;line-height:13.98px;background:#0cb848">0.17</div>
<div class="c" style="left:194.37px;top:431.84px;width:16.95px;height:14.00px;line-height:13.98px;background:#ffe483">0.26</div>
<div class="c" style="left:211.30px;top:431.84px;width:16.95px;height:14.00px;line-height:13.98px;background:#ffe181">0.35</div>
<div class="c" style="left:228.23px;top:431.84px;width:16.95px;height:14.00px;line-height:13.98px;background:#ffda7d">0.53</div>
<div class="c" style="left:245.16px;top:431.84px;width:16.95px;height:14.00px;line-height:13.98px;background:#ffdd7f">0.48</div>
<div class="c" style="left:262.09px;top:431.84px;width:16.95px;height:14.00px;line-height:13.98px;background:#ffd379">0.71</div>
<div class="c" style="left:279.02px;top:431.84px;width:16.95px;height:14.00px;line-height:13.98px;background:#ffce76">0.85</div>
<div class="c" style="left:295.95px;top:431.84px;width:16.95px;height:14.00px;line-height:13.98px;background:#ffc672">1.05</div>
<div class="rl" style="left:15.7px;top:445.82px;width:26.30px;height:13.98px;line-height:13.98px">D18-d3</div>
<div class="c" style="left:42.00px;top:445.82px;width:16.95px;height:14.00px;line-height:13.98px;background:#fe4126">6.05</div>
<div class="c" style="left:58.93px;top:445.82px;width:16.95px;height:14.00px;line-height:13.98px;background:#fe4126">4.32</div>
<div class="c" style="left:75.86px;top:445.82px;width:16.95px;height:14.00px;line-height:13.98px;background:#fe4126">3.14</div>
<div class="c" style="left:92.79px;top:445.82px;width:16.95px;height:14.00px;line-height:13.98px;background:#fe7845">1.70</div>
<div class="c" style="left:109.72px;top:445.82px;width:16.95px;height:14.00px;line-height:13.98px;background:#ff9958">1.59</div>
<div class="c" style="left:126.65px;top:445.82px;width:16.95px;height:14.00px;line-height:13.98px;background:#ffd077">0.86</div>
<div class="c" style="left:143.58px;top:445.82px;width:16.95px;height:14.00px;line-height:13.98px;background:#ffd57b">0.71</div>
<div class="c" style="left:160.51px;top:445.82px;width:16.95px;height:14.00px;line-height:13.98px;background:#ffe382">0.42</div>
<div class="c" style="left:177.44px;top:445.82px;width:16.95px;height:14.00px;line-height:13.98px;background:#ffe584">0.29</div>
<div class="c b" style="left:194.37px;top:445.82px;width:16.95px;height:14.00px;line-height:13.98px;background:#0cb848">0.15</div>
<div class="c" style="left:211.30px;top:445.82px;width:16.95px;height:14.00px;line-height:13.98px;background:#efe380">0.21</div>
<div class="c" style="left:228.23px;top:445.82px;width:16.95px;height:14.00px;line-height:13.98px;background:#ffe483">0.27</div>
<div class="c" style="left:245.16px;top:445.82px;width:16.95px;height:14.00px;line-height:13.98px;background:#ffe684">0.23</div>
<div class="c" style="left:262.09px;top:445.82px;width:16.95px;height:14.00px;line-height:13.98px;background:#ffdd7f">0.42</div>
<div class="c" style="left:279.02px;top:445.82px;width:16.95px;height:14.00px;line-height:13.98px;background:#ffd87c">0.55</div>
<div class="c" style="left:295.95px;top:445.82px;width:16.95px;height:14.00px;line-height:13.98px;background:#ffd077">0.76</div>
<div class="rl" style="left:15.7px;top:459.80px;width:26.30px;height:13.98px;line-height:13.98px">D14-d3</div>
<div class="c" style="left:42.00px;top:459.80px;width:16.95px;height:14.00px;line-height:13.98px;background:#fe3820">6.30</div>
<div class="c" style="left:58.93px;top:459.80px;width:16.95px;height:14.00px;line-height:13.98px;background:#fe3820">4.58</div>
<div class="c" style="left:75.86px;top:459.80px;width:16.95px;height:14.00px;line-height:13.98px;background:#fe3820">3.34</div>
<div class="c" style="left:92.79px;top:459.80px;width:16.95px;height:14.00px;line-height:13.98px;background:#fe6d3f">1.74</div>
<div class="c" style="left:109.72px;top:459.80px;width:16.95px;height:14.00px;line-height:13.98px;background:#ff834b">1.89</div>
<div class="c" style="left:126.65px;top:459.80px;width:16.95px;height:14.00px;line-height:13.98px;background:#ffc772">1.02</div>
<div class="c" style="left:143.58px;top:459.80px;width:16.95px;height:14.00px;line-height:13.98px;background:#ffd279">0.77</div>
<div class="c" style="left:160.51px;top:459.80px;width:16.95px;height:14.00px;line-height:13.98px;background:#ffe584">0.37</div>
<div class="c" style="left:177.44px;top:459.80px;width:16.95px;height:14.00px;line-height:13.98px;background:#ffd87c">0.59</div>
<div class="c" style="left:194.37px;top:459.80px;width:16.95px;height:14.00px;line-height:13.98px;background:#ffe583">0.24</div>
<div class="c" style="left:211.30px;top:459.80px;width:16.95px;height:14.00px;line-height:13.98px;background:#ffe684">0.22</div>
<div class="c b" style="left:228.23px;top:459.80px;width:16.95px;height:14.00px;line-height:13.98px;background:#0cb848">0.13</div>
<div class="c b" style="left:245.16px;top:459.80px;width:16.95px;height:14.00px;line-height:13.98px;background:#0cb848">0.11</div>
<div class="c" style="left:262.09px;top:459.80px;width:16.95px;height:14.00px;line-height:13.98px;background:#61c85d">0.14</div>
<div class="c" style="left:279.02px;top:459.80px;width:16.95px;height:14.00px;line-height:13.98px;background:#ffe483">0.23</div>
<div class="c" style="left:295.95px;top:459.80px;width:16.95px;height:14.00px;line-height:13.98px;background:#ffdc7e">0.40</div>
<div class="rl" style="left:15.7px;top:473.78px;width:26.30px;height:13.98px;line-height:13.98px">D10-d3</div>
<div class="c" style="left:42.00px;top:473.78px;width:16.95px;height:14.00px;line-height:13.98px;background:#fe2918">6.74</div>
<div class="c" style="left:58.93px;top:473.78px;width:16.95px;height:14.00px;line-height:13.98px;background:#fe2918">4.94</div>
<div class="c" style="left:75.86px;top:473.78px;width:16.95px;height:14.00px;line-height:13.98px;background:#fe2918">3.63</div>
<div class="c" style="left:92.79px;top:473.78px;width:16.95px;height:14.00px;line-height:13.98px;background:#fe5e36">1.87</div>
<div class="c" style="left:109.72px;top:473.78px;width:16.95px;height:14.00px;line-height:13.98px;background:#fe663b">2.25</div>
<div class="c" style="left:126.65px;top:473.78px;width:16.95px;height:14.00px;line-height:13.98px;background:#ffb769">1.31</div>
<div class="c" style="left:143.58px;top:473.78px;width:16.95px;height:14.00px;line-height:13.98px;background:#ffc973">0.96</div>
<div class="c" style="left:160.51px;top:473.78px;width:16.95px;height:14.00px;line-height:13.98px;background:#ffe483">0.40</div>
<div class="c" style="left:177.44px;top:473.78px;width:16.95px;height:14.00px;line-height:13.98px;background:#ffc772">0.97</div>
<div class="c" style="left:194.37px;top:473.78px;width:16.95px;height:14.00px;line-height:13.98px;background:#ffda7d">0.49</div>
<div class="c" style="left:211.30px;top:473.78px;width:16.95px;height:14.00px;line-height:13.98px;background:#ffe080">0.37</div>
<div class="c" style="left:228.23px;top:473.78px;width:16.95px;height:14.00px;line-height:13.98px;background:#30bf51">0.17</div>
<div class="c" style="left:245.16px;top:473.78px;width:16.95px;height:14.00px;line-height:13.98px;background:#ffe181">0.37</div>
<div class="c b" style="left:262.09px;top:473.78px;width:16.95px;height:14.00px;line-height:13.98px;background:#0cb848">0.11</div>
<div class="c b" style="left:279.02px;top:473.78px;width:16.95px;height:14.00px;line-height:13.98px;background:#0cb848">0.09</div>
<div class="c" style="left:295.95px;top:473.78px;width:16.95px;height:14.00px;line-height:13.98px;background:#aed770">0.10</div>
<div class="rl" style="left:15.7px;top:487.76px;width:26.30px;height:13.98px;line-height:13.98px">D22-d4</div>
<div class="c" style="left:42.00px;top:487.76px;width:16.95px;height:14.00px;line-height:13.98px;background:#fe2d1a">6.47</div>
<div class="c" style="left:58.93px;top:487.76px;width:16.95px;height:14.00px;line-height:13.98px;background:#fe2d1a">4.74</div>
<div class="c" style="left:75.86px;top:487.76px;width:16.95px;height:14.00px;line-height:13.98px;background:#fe2d1a">3.54</div>
<div class="c" style="left:92.79px;top:487.76px;width:16.95px;height:14.00px;line-height:13.98px;background:#fe5531">1.96</div>
<div class="c" style="left:109.72px;top:487.76px;width:16.95px;height:14.00px;line-height:13.98px;background:#fe7845">2.02</div>
<div class="c" style="left:126.65px;top:487.76px;width:16.95px;height:14.00px;line-height:13.98px;background:#ffbc6c">1.22</div>
<div class="c" style="left:143.58px;top:487.76px;width:16.95px;height:14.00px;line-height:13.98px;background:#ffc772">0.99</div>
<div class="c" style="left:160.51px;top:487.76px;width:16.95px;height:14.00px;line-height:13.98px;background:#ffdd7f">0.56</div>
<div class="c" style="left:177.44px;top:487.76px;width:16.95px;height:14.00px;line-height:13.98px;background:#ffd379">0.70</div>
<div class="c" style="left:194.37px;top:487.76px;width:16.95px;height:14.00px;line-height:13.98px;background:#ffdb7e">0.47</div>
<div class="c" style="left:211.30px;top:487.76px;width:16.95px;height:14.00px;line-height:13.98px;background:#ffde7f">0.42</div>
<div class="c" style="left:228.23px;top:487.76px;width:16.95px;height:14.00px;line-height:13.98px;background:#ffe281">0.33</div>
<div class="c" style="left:245.16px;top:487.76px;width:16.95px;height:14.00px;line-height:13.98px;background:#ffe684">0.23</div>
<div class="c" style="left:262.09px;top:487.76px;width:16.95px;height:14.00px;line-height:13.98px;background:#ffe583">0.20</div>
<div class="c" style="left:279.02px;top:487.76px;width:16.95px;height:14.00px;line-height:13.98px;background:#ffe483">0.23</div>
<div class="c" style="left:295.95px;top:487.76px;width:16.95px;height:14.00px;line-height:13.98px;background:#ffdd7f">0.38</div>
<div class="rl" style="left:15.7px;top:501.74px;width:26.30px;height:13.98px;line-height:13.98px">D18-d4</div>
<div class="c" style="left:42.00px;top:501.74px;width:16.95px;height:14.00px;line-height:13.98px;background:#fe2415">6.63</div>
<div class="c" style="left:58.93px;top:501.74px;width:16.95px;height:14.00px;line-height:13.98px;background:#fe2415">4.87</div>
<div class="c" style="left:75.86px;top:501.74px;width:16.95px;height:14.00px;line-height:13.98px;background:#fe2415">3.63</div>
<div class="c" style="left:92.79px;top:501.74px;width:16.95px;height:14.00px;line-height:13.98px;background:#fe5330">1.98</div>
<div class="c" style="left:109.72px;top:501.74px;width:16.95px;height:14.00px;line-height:13.98px;background:#fe6d3f">2.16</div>
<div class="c" style="left:126.65px;top:501.74px;width:16.95px;height:14.00px;line-height:13.98px;background:#ffb86a">1.30</div>
<div class="c" style="left:143.58px;top:501.74px;width:16.95px;height:14.00px;line-height:13.98px;background:#ffc672">1.02</div>
<div class="c" style="left:160.51px;top:501.74px;width:16.95px;height:14.00px;line-height:13.98px;background:#ffde7f">0.55</div>
<div class="c" style="left:177.44px;top:501.74px;width:16.95px;height:14.00px;line-height:13.98px;background:#ffcc75">0.85</div>
<div class="c" style="left:194.37px;top:501.74px;width:16.95px;height:14.00px;line-height:13.98px;background:#ffda7d">0.51</div>
<div class="c" style="left:211.30px;top:501.74px;width:16.95px;height:14.00px;line-height:13.98px;background:#ffdd7f">0.43</div>
<div class="c" style="left:228.23px;top:501.74px;width:16.95px;height:14.00px;line-height:13.98px;background:#ffe282">0.31</div>
<div class="c" style="left:245.16px;top:501.74px;width:16.95px;height:14.00px;line-height:13.98px;background:#ffe383">0.30</div>
<div class="c" style="left:262.09px;top:501.74px;width:16.95px;height:14.00px;line-height:13.98px;background:#ffe583">0.19</div>
<div class="c" style="left:279.02px;top:501.74px;width:16.95px;height:14.00px;line-height:13.98px;background:#ffe684">0.16</div>
<div class="c" style="left:295.95px;top:501.74px;width:16.95px;height:14.00px;line-height:13.98px;background:#ffe382">0.20</div>
<div class="rl" style="left:15.7px;top:515.72px;width:26.30px;height:13.98px;line-height:13.98px">D14-d4</div>
<div class="c" style="left:42.00px;top:515.72px;width:16.95px;height:14.00px;line-height:13.98px;background:#fe2013">6.82</div>
<div class="c" style="left:58.93px;top:515.72px;width:16.95px;height:14.00px;line-height:13.98px;background:#fe2013">5.04</div>
<div class="c" style="left:75.86px;top:515.72px;width:16.95px;height:14.00px;line-height:13.98px;background:#fe2013">3.74</div>
<div class="c" style="left:92.79px;top:515.72px;width:16.95px;height:14.00px;line-height:13.98px;background:#fe4c2c">2.03</div>
<div class="c" style="left:109.72px;top:515.72px;width:16.95px;height:14.00px;line-height:13.98px;background:#fe5e36">2.36</div>
<div class="c" style="left:126.65px;top:515.72px;width:16.95px;height:14.00px;line-height:13.98px;background:#ffb065">1.44</div>
<div class="c" style="left:143.58px;top:515.72px;width:16.95px;height:14.00px;line-height:13.98px;background:#ffc16f">1.11</div>
<div class="c" style="left:160.51px;top:515.72px;width:16.95px;height:14.00px;line-height:13.98px;background:#ffdd7f">0.56</div>
<div class="c" style="left:177.44px;top:515.72px;width:16.95px;height:14.00px;line-height:13.98px;background:#ffc471">1.04</div>
<div class="c" style="left:194.37px;top:515.72px;width:16.95px;height:14.00px;line-height:13.98px;background:#ffd57a">0.62</div>
<div class="c" style="left:211.30px;top:515.72px;width:16.95px;height:14.00px;line-height:13.98px;background:#ffdb7d">0.50</div>
<div class="c" style="left:228.23px;top:515.72px;width:16.95px;height:14.00px;line-height:13.98px;background:#ffe282">0.32</div>
<div class="c" style="left:245.16px;top:515.72px;width:16.95px;height:14.00px;line-height:13.98px;background:#ffdd7f">0.46</div>
<div class="c" style="left:262.09px;top:515.72px;width:16.95px;height:14.00px;line-height:13.98px;background:#ffe382">0.24</div>
<div class="c" style="left:279.02px;top:515.72px;width:16.95px;height:14.00px;line-height:13.98px;background:#ffe684">0.16</div>
<div class="c b" style="left:295.95px;top:515.72px;width:16.95px;height:14.00px;line-height:13.98px;background:#0cb848">0.09</div>
<div class="rl" style="left:15.7px;top:529.70px;width:26.30px;height:13.98px;line-height:13.98px">D10-d4</div>
<div class="c" style="left:42.00px;top:529.70px;width:16.95px;height:14.00px;line-height:13.98px;background:#fe190f">7.03</div>
<div class="c" style="left:58.93px;top:529.70px;width:16.95px;height:14.00px;line-height:13.98px;background:#fe190f">5.24</div>
<div class="c" style="left:75.86px;top:529.70px;width:16.95px;height:14.00px;line-height:13.98px;background:#fe190f">3.92</div>
<div class="c" style="left:92.79px;top:529.70px;width:16.95px;height:14.00px;line-height:13.98px;background:#fe4829">2.13</div>
<div class="c" style="left:109.72px;top:529.70px;width:16.95px;height:14.00px;line-height:13.98px;background:#fe5330">2.54</div>
<div class="c" style="left:126.65px;top:529.70px;width:16.95px;height:14.00px;line-height:13.98px;background:#ffa760">1.61</div>
<div class="c" style="left:143.58px;top:529.70px;width:16.95px;height:14.00px;line-height:13.98px;background:#ffba6b">1.26</div>
<div class="c" style="left:160.51px;top:529.70px;width:16.95px;height:14.00px;line-height:13.98px;background:#ffdc7e">0.60</div>
<div class="c" style="left:177.44px;top:529.70px;width:16.95px;height:14.00px;line-height:13.98px;background:#ffbb6b">1.25</div>
<div class="c" style="left:194.37px;top:529.70px;width:16.95px;height:14.00px;line-height:13.98px;background:#ffce76">0.79</div>
<div class="c" style="left:211.30px;top:529.70px;width:16.95px;height:14.00px;line-height:13.98px;background:#ffd47a">0.66</div>
<div class="c" style="left:228.23px;top:529.70px;width:16.95px;height:14.00px;line-height:13.98px;background:#ffdf80">0.39</div>
<div class="c" style="left:245.16px;top:529.70px;width:16.95px;height:14.00px;line-height:13.98px;background:#ffd67b">0.65</div>
<div class="c" style="left:262.09px;top:529.70px;width:16.95px;height:14.00px;line-height:13.98px;background:#ffdf80">0.37</div>
<div class="c" style="left:279.02px;top:529.70px;width:16.95px;height:14.00px;line-height:13.98px;background:#ffe282">0.28</div>
<div class="c" style="left:295.95px;top:529.70px;width:16.95px;height:14.00px;line-height:13.98px;background:#ffe684">0.11</div>
</body></html>
